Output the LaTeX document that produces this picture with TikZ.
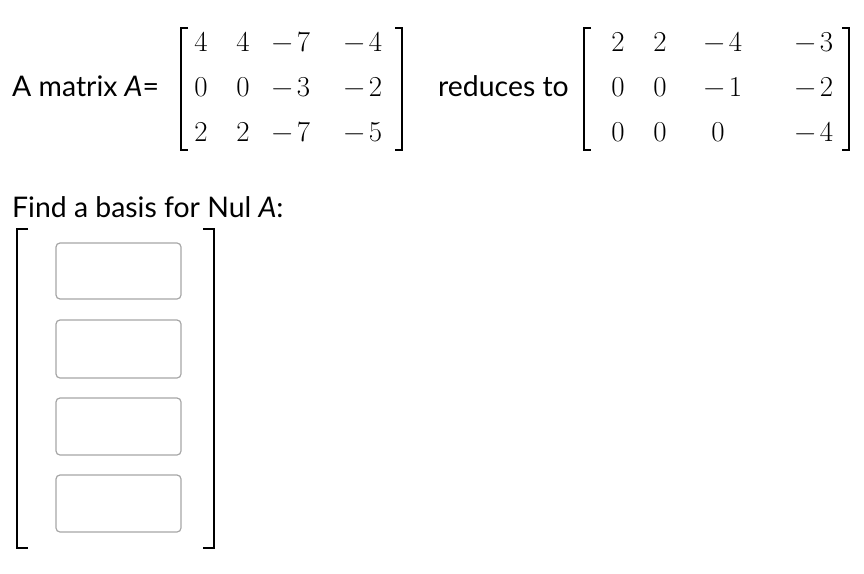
\documentclass[tikz,border=0pt]{standalone}
\usepackage{fontspec}
\setmainfont{Lato}
\newfontfamily\numfont{Latin Modern Roman}
\newcommand{\mn}[1]{−\kern4bp#1}
\begin{document}
\begin{tikzpicture}[x=1bp,y=-1bp,
  txt/.style={anchor=base west,font=\fontsize{28.5}{32}\selectfont,inner sep=0},
  num/.style={anchor=base,font=\numfont\fontsize{29}{32}\selectfont,inner sep=0},
  brk/.style={line width=1.6pt},
  ansbox/.style={draw=gray!70,line width=1.2pt,rounded corners=4bp}]
\useasboundingbox (0,0) rectangle (864,574);
% matrix A
\draw[brk] (188,28) -- (181,28) -- (181,150) -- (188,150);
\draw[brk] (395,28) -- (402,28) -- (402,150) -- (395,150);
\node[txt] (lab) at (12,97) {A matrix \textit{A}=};
\node[num] (a11) at (201,52) {4}; \node[num] (a12) at (243,52) {4};
\node[num] (a13) at (291,52) {\mn{7}}; \node[num] (a14) at (363,52) {\mn{4}};
\node[num] (a21) at (201,97) {0}; \node[num] (a22) at (243,97) {0};
\node[num] (a23) at (291,97) {\mn{3}}; \node[num] (a24) at (363,97) {\mn{2}};
\node[num] (a31) at (201,142) {2}; \node[num] (a32) at (243,142) {2};
\node[num] (a33) at (291,142) {\mn{7}}; \node[num] (a34) at (363,142) {\mn{5}};
\node[txt] (red) at (438,97) {reduces to};
% matrix R
\draw[brk] (591,28) -- (584,28) -- (584,150) -- (591,150);
\draw[brk] (842,28) -- (849,28) -- (849,150) -- (842,150);
\node[num] (b11) at (618,52) {2}; \node[num] (b12) at (660,52) {2};
\node[num] (b13) at (723,52) {\mn{4}}; \node[num] (b14) at (814,52) {\mn{3}};
\node[num] (b21) at (618,97) {0}; \node[num] (b22) at (660,97) {0};
\node[num] (b23) at (723,97) {\mn{1}}; \node[num] (b24) at (814,97) {\mn{2}};
\node[num] (b31) at (618,142) {0}; \node[num] (b32) at (660,142) {0};
\node[num] (b33) at (718,142) {0}; \node[num] (b34) at (814,142) {\mn{4}};
\node[txt] (find) at (12,218) {Find a basis for Nul \textit{A}:};
% answer vector
\draw[brk] (28,229) -- (17,229) -- (17,548) -- (28,548);
\draw[brk] (203,229) -- (214,229) -- (214,548) -- (203,548);
\draw[ansbox] (56,243) rectangle (181,299);
\draw[ansbox] (56,320) rectangle (181,378);
\draw[ansbox] (56,398) rectangle (181,455);
\draw[ansbox] (56,475) rectangle (181,532);
\end{tikzpicture}
\end{document}
